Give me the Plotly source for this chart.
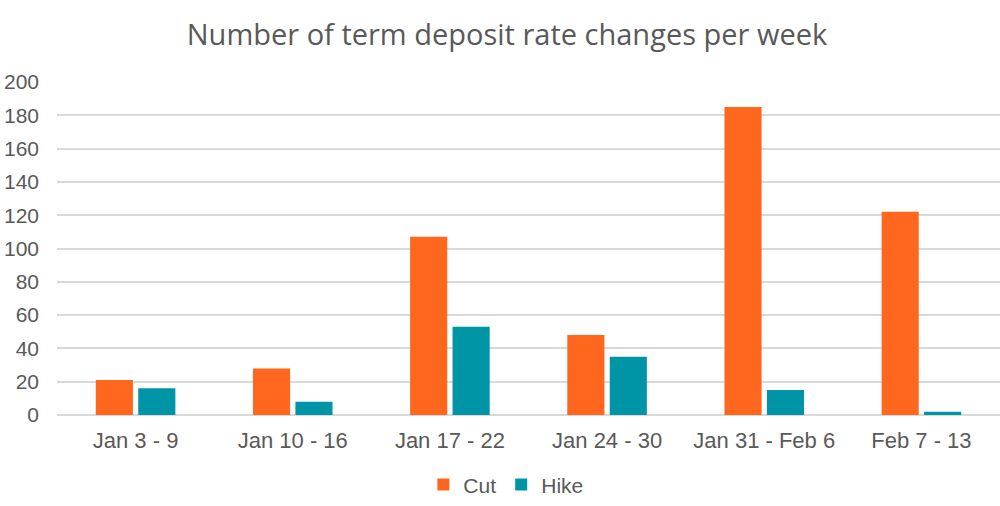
import plotly.graph_objects as go

categories = ["Jan 3 - 9", "Jan 10 - 16", "Jan 17 - 22", "Jan 24 - 30", "Jan 31 - Feb 6", "Feb 7 - 13"]
cut = [21, 28, 107, 48, 185, 122]
hike = [16, 8, 53, 35, 15, 2]
y_ticks = [0, 20, 40, 60, 80, 100, 120, 140, 160, 180, 200]

fig = go.Figure()
fig.add_trace(go.Bar(name="Cut", x=categories, y=cut, marker=dict(color="#FF671F", line=dict(width=0))))
fig.add_trace(go.Bar(name="Hike", x=categories, y=hike, marker=dict(color="#0094A7", line=dict(width=0))))

fig.update_layout(
    width=1000, height=506,
    paper_bgcolor="white", plot_bgcolor="white",
    margin=dict(l=57, r=0, t=82, b=91, autoexpand=False),
    barmode="group", bargap=0.46, bargroupgap=0.125,
    title=dict(text="Number of term deposit rate changes per week",
               x=0.507, xanchor="center", y=0.931, yanchor="middle",
               font=dict(family="Open Sans", size=29, color="#595959")),
    font=dict(family="Liberation Sans", size=21, color="#595959"),
    legend=dict(orientation="h", x=0.476, xanchor="center", y=-0.21, yanchor="middle",
                font=dict(size=21, color="#595959"), itemwidth=30, tracegroupgap=0),
    showlegend=True,
)
fig.update_xaxes(showgrid=False, showline=False, ticks="", automargin=False,
                 tickfont=dict(size=22, color="#595959"), ticklabelstandoff=10)
fig.update_yaxes(range=[0, 200], tickvals=y_ticks, showgrid=True, gridcolor="#D9D9D9", gridwidth=1.5,
                 zeroline=True, zerolinecolor="#D9D9D9", zerolinewidth=1.5, automargin=False,
                 ticks="", tickfont=dict(size=21, color="#595959"), ticklabelstandoff=17)

fig.write_html("out.html",
               config={"displayModeBar": False},
               post_script="document.body.style.margin='0';document.body.style.overflow='hidden';")
